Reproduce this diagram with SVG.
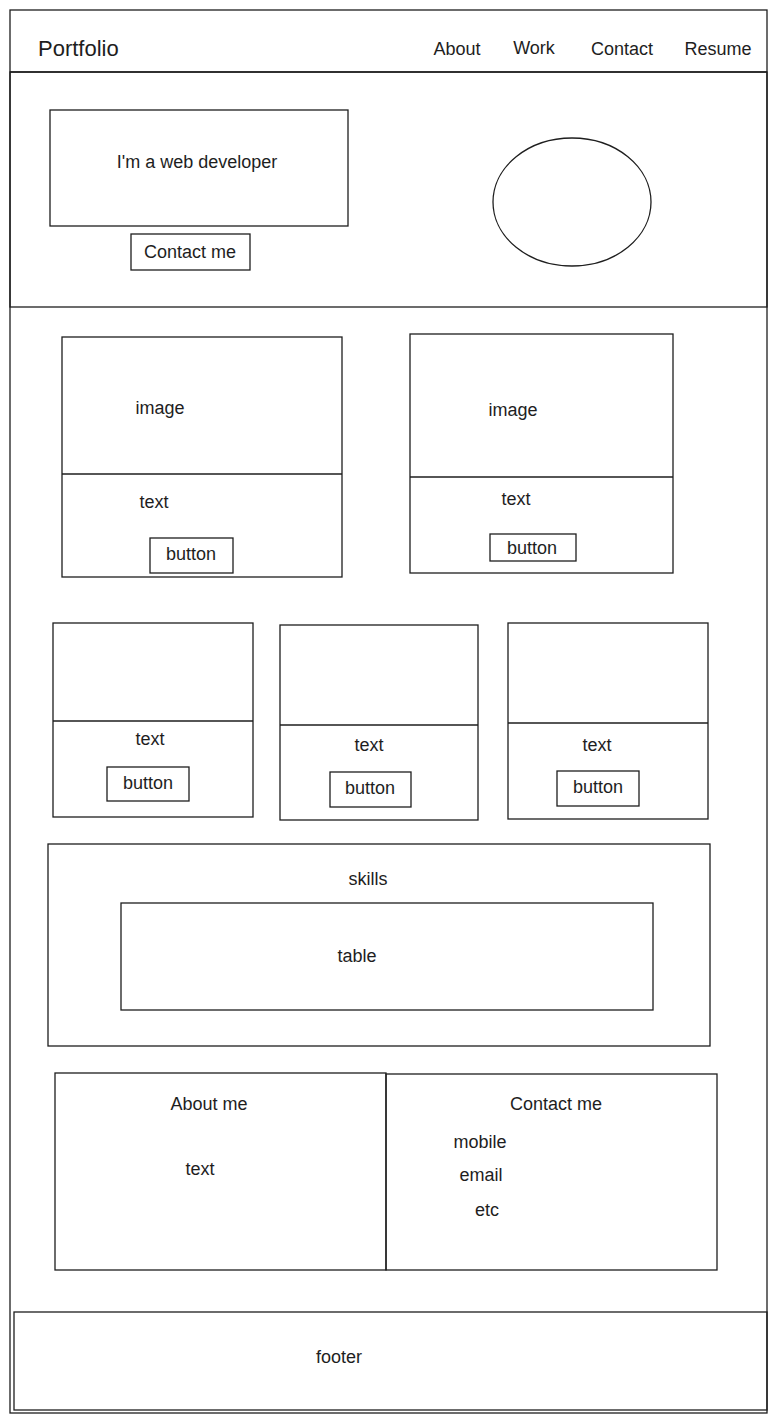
<svg xmlns="http://www.w3.org/2000/svg" width="778" height="1421" viewBox="0 0 778 1421">
<style>
rect,ellipse,line{fill:none;stroke:#1e1e1e;stroke-width:1.3}
text{font-family:"Liberation Sans",sans-serif;font-size:18px;fill:#1e1e1e;text-anchor:middle;dominant-baseline:middle}
</style>
<rect width="778" height="1421" style="fill:#fff;stroke:none"/>
<g id="page"><rect x="10" y="10" width="757" height="1403"/></g>
<g id="header"><line x1="10" y1="72" x2="767" y2="72"/>
<text x="38" y="50" style="font-size:22px;text-anchor:start">Portfolio</text>
<text x="457" y="50">About</text><text x="534" y="49">Work</text><text x="622" y="50">Contact</text><text x="718" y="50">Resume</text></g>
<g id="hero"><rect x="10" y="72" width="757" height="235"/>
<rect x="50" y="110" width="298" height="116"/><text x="197" y="163">I'm a web developer</text>
<rect x="131" y="234" width="119" height="36"/><text x="190" y="253">Contact me</text>
<ellipse cx="572" cy="202" rx="79" ry="64"/></g>
<g id="card1"><rect x="62" y="337" width="280" height="240"/><line x1="62" y1="474" x2="342" y2="474"/>
<text x="160" y="409">image</text><text x="154" y="503">text</text>
<rect x="150" y="538" width="83" height="35"/><text x="191" y="555">button</text></g>
<g id="card2"><rect x="410" y="334" width="263" height="239"/><line x1="410" y1="477" x2="673" y2="477"/>
<text x="513" y="411">image</text><text x="516" y="500">text</text>
<rect x="490" y="534" width="86" height="27"/><text x="532" y="549">button</text></g>
<g id="card3"><rect x="53" y="623" width="200" height="194"/><line x1="53" y1="721" x2="253" y2="721"/>
<text x="150" y="740">text</text><rect x="107" y="767" width="82" height="34"/><text x="148" y="784">button</text></g>
<g id="card4"><rect x="280" y="625" width="198" height="195"/><line x1="280" y1="725" x2="478" y2="725"/>
<text x="369" y="746">text</text><rect x="330" y="772" width="81" height="35"/><text x="370" y="789">button</text></g>
<g id="card5"><rect x="508" y="623" width="200" height="196"/><line x1="508" y1="723" x2="708" y2="723"/>
<text x="597" y="746">text</text><rect x="557" y="771" width="82" height="35"/><text x="598" y="788">button</text></g>
<g id="skills"><rect x="48" y="844" width="662" height="202"/><text x="368" y="880">skills</text>
<rect x="121" y="903" width="532" height="107"/><text x="357" y="957">table</text></g>
<g id="about"><rect x="55" y="1073" width="331" height="197"/><text x="209" y="1105">About me</text><text x="200" y="1170">text</text></g>
<g id="contact"><rect x="386" y="1074" width="331" height="196"/><text x="556" y="1105">Contact me</text>
<text x="480" y="1143">mobile</text><text x="481" y="1176">email</text><text x="487" y="1211">etc</text></g>
<g id="footer"><rect x="14" y="1312" width="753" height="98"/><text x="339" y="1358">footer</text></g>
<g id="connectors"/>
</svg>
